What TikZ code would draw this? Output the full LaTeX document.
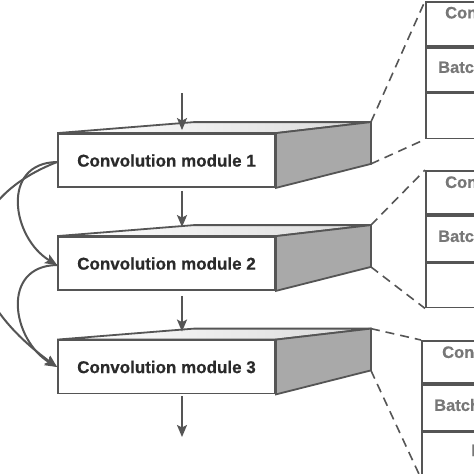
\documentclass[tikz,border=0pt]{standalone}
\usepackage{fontspec}
\setmainfont{Liberation Sans}
\newfontfamily\heavyfont{Liberation Sans Bold}[FakeBold=0.6]
\usetikzlibrary{arrows.meta,calc}
\definecolor{ln}{HTML}{555555}
\definecolor{topf}{HTML}{DADADA}
\definecolor{sidef}{HTML}{A9A9A9}
\definecolor{mtxt}{HTML}{2A2A2A}
\definecolor{ptxt}{HTML}{777777}
\begin{document}
\begin{tikzpicture}[x=1pt,y=-1pt,line join=miter,
  front/.style={draw=ln,line width=1.8pt,fill=white,minimum width=217pt,minimum height=53pt,inner sep=0pt,
    font=\fontsize{17}{19}\selectfont\heavyfont,text=mtxt},
  topface/.style={draw=ln,line width=1.8pt,left color=white,right color=topf},
  sideface/.style={draw=ln,line width=1.8pt,fill=sidef},
  prow/.style={draw=ln,line width=1.8pt,fill=white,minimum width=130pt,anchor=north west,inner sep=0pt},
  divline/.style={draw=ln,line width=3pt},
  ptext/.style={anchor=west,inner sep=0pt,font=\fontsize{16.5}{18}\selectfont\heavyfont,text=ptxt},
  arr/.style={draw=ln,line width=2pt,-{Stealth[length=12pt,width=10pt,inset=2.5pt]}},
  dline/.style={draw=ln,line width=1.6pt,dash pattern=on 9pt off 6pt}]
\clip (0,0) rectangle (474,474);
\fill[white] (0,0) rectangle (474,474);

% panels
\node[prow,minimum height=44pt] (p1a) at (425,1) {};
\node[prow,minimum height=44pt] (p1b) at (p1a.south west) {};
\node[prow,minimum height=45pt] (p1c) at (p1b.south west) {};
\node[prow,minimum height=43pt] (p2a) at (425,170) {};
\node[prow,minimum height=46pt] (p2b) at (p2a.south west) {};
\node[prow,minimum height=44pt] (p2c) at (p2b.south west) {};
\node[prow,minimum height=42pt] (p3a) at (421,340) {};
\node[prow,minimum height=46pt] (p3b) at (p3a.south west) {};
\node[prow,minimum height=45pt] (p3c) at (p3b.south west) {};
\foreach \r in {p1a,p1b,p2a,p2b,p3a,p3b}{\draw[divline] (\r.south west) -- (\r.south east);}
\node[ptext] (t1a) at (445,12.5) {Convolution};
\node[ptext] (t1b) at (438,67) {Batch normalization};
\node[ptext] (t2a) at (445,182) {Convolution};
\node[ptext] (t2b) at (438,236) {Batch normalization};
\node[ptext] (t3a) at (442,352) {Convolution};
\node[ptext] (t3b) at (434,405) {Batch normalization};
\node[ptext] (t3c) at (471,450.5) {ReLU};

% modules
\foreach \i/\y in {1/160.5,2/263.5,3/367}{
  \node[front] (m\i) at (166.5,\y) {Convolution module \i};
  \coordinate (b\i tl) at ($(m\i.north west)+(137,-11)$);
  \coordinate (b\i tr) at ($(m\i.north east)+(95,-11)$);
  \coordinate (b\i br) at ($(m\i.south east)+(95,-24)$);
  \draw[topface] (m\i.north west) -- (b\i tl) -- (b\i tr) -- (m\i.north east) -- cycle;
  \draw[sideface] (m\i.north east) -- (b\i tr) -- (b\i br) -- (m\i.south east) -- cycle;
}

% dashed zoom lines
\draw[dline] (b1tr) -- (p1a.north west);
\draw[dline] (b1br) -- (p1c.south west);
\draw[dline] (b2tr) -- (p2a.north west);
\draw[dline] (b2br) -- (p2c.south west);
\draw[dline] (b3tr) -- (p3a.north west);
\draw[dline] (b3br) -- (p3c.south west);

% vertical arrows
\coordinate (in) at (182,93);
\coordinate (out) at (182,437);
\draw[arr] (in) -- ($(m1.north)+(15.5,-3)$);
\draw[arr] ($(m1.south)+(15.5,3)$) -- ($(m2.north)+(15.5,-9)$);
\draw[arr] ($(m2.south)+(15.5,5)$) -- ($(m3.north)+(15.5,-8)$);
\draw[arr] ($(m3.south)+(15.5,2)$) -- (out);

% skip connections
\draw[arr] ($(m1.west)+(0,1.5)$) .. controls (0,163) and (12,238) .. ($(m2.west)+(0,1.5)$);
\draw[arr] ($(m2.west)+(0,1.5)$) .. controls (0,266) and (12,340) .. ($(m3.west)+(0,0)$);
\draw[arr] ($(m1.west)+(0,1.5)$) .. controls (-40,200) and (-55,285) .. ($(m3.west)+(0,0)$);
\end{tikzpicture}
\end{document}
